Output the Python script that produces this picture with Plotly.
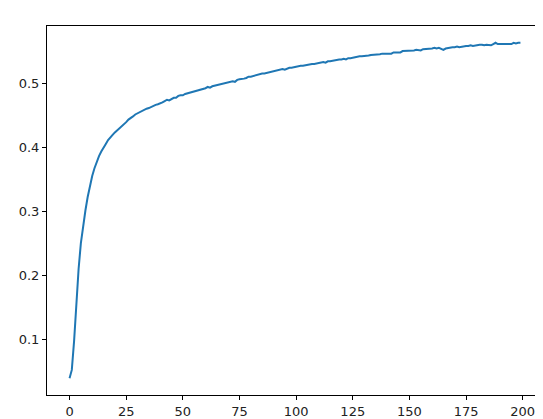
import plotly.graph_objects as go

steps = list(range(200))
values = [
    0.039, 0.052, 0.097, 0.160, 0.210, 0.250, 0.278, 0.301, 0.322, 0.340,
    0.355, 0.367, 0.378, 0.386, 0.393, 0.400, 0.405, 0.411, 0.416, 0.419,
    0.423, 0.426, 0.429, 0.433, 0.436, 0.439, 0.443, 0.445, 0.448, 0.451,
    0.453, 0.455, 0.457, 0.459, 0.460, 0.461, 0.463, 0.465, 0.466, 0.467,
    0.468, 0.470, 0.472, 0.474, 0.473, 0.475, 0.477, 0.477, 0.480, 0.481,
    0.481, 0.483, 0.484, 0.484, 0.486, 0.486, 0.488, 0.489, 0.489, 0.491,
    0.492, 0.494, 0.493, 0.495, 0.496, 0.496, 0.498, 0.499, 0.499, 0.500,
    0.501, 0.502, 0.503, 0.502, 0.505, 0.506, 0.506, 0.507, 0.508, 0.510,
    0.510, 0.511, 0.513, 0.513, 0.514, 0.515, 0.515, 0.516, 0.517, 0.518,
    0.519, 0.519, 0.520, 0.521, 0.522, 0.521, 0.523, 0.524, 0.524, 0.525,
    0.525, 0.526, 0.527, 0.527, 0.528, 0.528, 0.529, 0.530, 0.530, 0.531,
    0.531, 0.532, 0.533, 0.532, 0.534, 0.534, 0.535, 0.535, 0.536, 0.537,
    0.537, 0.538, 0.537, 0.539, 0.539, 0.540, 0.540, 0.541, 0.542, 0.542,
    0.542, 0.543, 0.543, 0.544, 0.544, 0.545, 0.545, 0.545, 0.546, 0.546,
    0.546, 0.547, 0.546, 0.548, 0.548, 0.549, 0.548, 0.550, 0.550, 0.550,
    0.550, 0.551, 0.551, 0.552, 0.552, 0.551, 0.553, 0.553, 0.554, 0.553,
    0.554, 0.555, 0.554, 0.555, 0.553, 0.552, 0.554, 0.555, 0.555, 0.556,
    0.556, 0.557, 0.556, 0.557, 0.558, 0.558, 0.558, 0.559, 0.558, 0.559,
    0.559, 0.560, 0.560, 0.559, 0.560, 0.560, 0.559, 0.561, 0.563, 0.561,
    0.561, 0.562, 0.561, 0.562, 0.562, 0.561, 0.563, 0.562, 0.563, 0.563,
]
x_ticks = [0, 25, 50, 75, 100, 125, 150, 175, 200]
y_ticks = [0.1, 0.2, 0.3, 0.4, 0.5]
y_tick_labels = ["0.1", "0.2", "0.3", "0.4", "0.5"]

fig = go.Figure()
fig.add_trace(go.Scatter(
    x=steps, y=values, mode="lines",
    line=dict(color="#1f77b4", width=2),
    showlegend=False,
))

axis_common = dict(
    showline=True, mirror=True, linecolor="black", linewidth=1,
    ticks="outside", ticklen=4, tickwidth=1, tickcolor="black",
    showgrid=False, zeroline=False, automargin=False,
    tickfont=dict(family="DejaVu Sans", size=13, color="#222222"),
)

xmin, xmax = min(steps), max(steps)
xpad = (xmax - xmin) * 0.05
ymin, ymax = min(values), max(values)
ypad = (ymax - ymin) * 0.05

fig.update_xaxes(range=[xmin - xpad, xmax + xpad], tickvals=x_ticks, **axis_common)
fig.update_yaxes(range=[ymin - ypad, ymax + ypad], tickvals=y_ticks,
                 ticktext=y_tick_labels, **axis_common)

fig.update_layout(
    width=543, height=419,
    margin=dict(l=39, r=8, t=18, b=32, autoexpand=False),
    paper_bgcolor="white", plot_bgcolor="white",
)

fig.write_html("out.html")
